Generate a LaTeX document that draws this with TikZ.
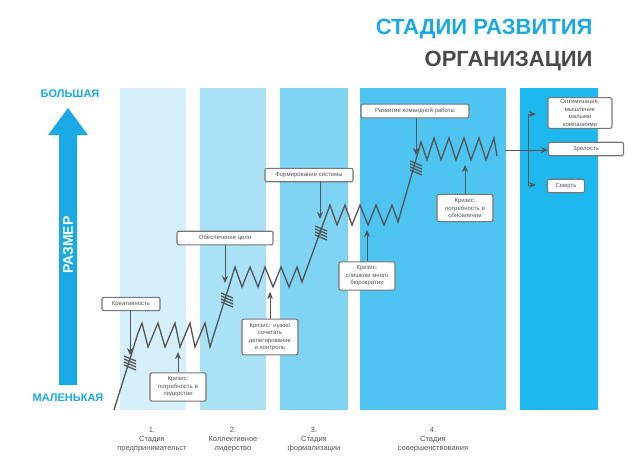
\documentclass[tikz,border=0pt]{standalone}
\usepackage{fontspec}
\setmainfont{Liberation Sans}
\usetikzlibrary{arrows.meta}
\definecolor{bA}{HTML}{D6F0FB}
\definecolor{bB}{HTML}{A9E2F7}
\definecolor{bC}{HTML}{7FD3F3}
\definecolor{bD}{HTML}{4DC5F0}
\definecolor{bE}{HTML}{1DB8ED}
\definecolor{cy}{HTML}{1BA9E6}
\definecolor{dg}{HTML}{4A4A4A}
\definecolor{ln}{HTML}{555555}
\tikzset{
 lbl/.style={draw=ln!80,fill=white,rounded corners=2pt,line width=1.1pt,font=\fontsize{6}{7.5}\selectfont,text=ln,align=center,inner xsep=3pt,inner ysep=4pt},
 arr/.style={draw=ln,line width=0.9pt,-{Stealth[length=7pt,width=6pt]}},
 crv/.style={draw=ln,line width=1.3pt,line join=miter},
 spr/.style={draw=ln,line width=1.3pt},
 stg/.style={font=\fontsize{7.5}{9}\selectfont,text=ln,align=center,anchor=north}
}
\newcommand{\sprng}[2]{\draw[spr] (#1-6,#2-4)--(#1+6,#2+1) (#1-6,#2-1)--(#1+6,#2+4) (#1-6,#2+2)--(#1+6,#2+7) (#1-6,#2-7)--(#1+6,#2-2);}
\begin{document}
\begin{tikzpicture}[x=1pt,y=-1pt]
\useasboundingbox (0,0) rectangle (640,472);
\fill[white] (0,0) rectangle (640,472);
\fill[bA] (120,88) rectangle (186,410);
\fill[bB] (200,88) rectangle (266,410);
\fill[bC] (280,88) rectangle (348,410);
\fill[bD] (360,88) rectangle (506,410);
\fill[bE] (520,88) rectangle (598,410);
\node[anchor=east,text=cy,font=\fontsize{22}{24}\bfseries] (t1) at (596,29) {СТАДИИ РАЗВИТИЯ};
\node[anchor=east,text=dg,font=\fontsize{22}{24}\bfseries] (t2) at (596,61) {ОРГАНИЗАЦИИ};
\fill[cy] (59,385) -- (59,135) -- (48,135) -- (68,108) -- (88,135) -- (77,135) -- (77,385) -- cycle;
\node[rotate=90,text=white,font=\fontsize{14}{16}\bfseries] (sz) at (68,245) {РАЗМЕР};
\node[text=cy,font=\fontsize{11}{12}\bfseries] (big) at (70,94) {БОЛЬШАЯ};
\node[text=cy,font=\fontsize{11}{12}\bfseries] (sm) at (68,398) {МАЛЕНЬКАЯ};
\draw[crv] (114,410) -- (138,333) -- (142,323) -- (148,347) -- (158,323) -- (165,347) -- (175,323) -- (180,347) -- (190,323) -- (195,347) -- (205,323) -- (210,347)
 -- (235,267) -- (242,287) -- (250,267) -- (258,287) -- (265,267) -- (273,287) -- (281,267) -- (289,287) -- (297,267) -- (302,282)
 -- (330,205) -- (337,225) -- (345,205) -- (352,225) -- (360,205) -- (368,225) -- (376,205) -- (384,225) -- (392,205) -- (398,222)
 -- (421,142) -- (427,160) -- (434,138) -- (441,160) -- (449,138) -- (456,160) -- (464,138) -- (471,160) -- (479,138) -- (486,160) -- (494,138) -- (497,156);
\sprng{130}{363}
\sprng{227}{300}
\sprng{321}{233}
\sprng{416}{168}
\node[lbl,minimum width=58pt] (kr) at (131,304) {Креативность};
\node[lbl,text width=50pt] (k1) at (178,387) {Кризис:\\потребность в\\лидерстве};
\node[lbl,minimum width=96pt] (ob) at (225,238) {Обеспечение цели};
\node[lbl,text width=50pt] (k2) at (270,337) {Кризис: нужно\\сочетать\\делегирование\\и контроль};
\node[lbl,minimum width=88pt] (fs) at (309,175) {Формирование системы};
\node[lbl,text width=50pt] (k3) at (367,276) {Кризис:\\слишком много\\бюрократии};
\node[lbl,minimum width=108pt] (rk) at (415,111) {Развитие командной работы};
\node[lbl,text width=58pt,inner ysep=2pt] (op) at (580,113) {Оптимизация,\\мышление\\малыми\\компаниями};
\node[lbl,text width=50pt] (k4) at (465,208) {Кризис:\\потребность в\\обновлении};
\node[lbl,minimum width=75pt] (zr) at (586,149) {Зрелость};
\node[lbl,minimum width=37pt] (sm2) at (566,186) {Смерть};
\coordinate (e1) at (130,355);
\coordinate (e2) at (178,352);
\coordinate (e3) at (225,283);
\coordinate (e4) at (270,292);
\coordinate (e5) at (320,219);
\coordinate (e6) at (367,230);
\coordinate (e7) at (416,155);
\coordinate (e8) at (465,165);
\draw[arr] (kr.south -| e1) -- (e1);
\draw[arr] (k1.north -| e2) -- (e2);
\draw[arr] (ob.south -| e3) -- (e3);
\draw[arr] (k2.north -| e4) -- (e4);
\draw[arr] (fs.south -| e5) -- (e5);
\draw[arr] (k3.north -| e6) -- (e6);
\draw[arr] (rk.south -| e7) -- (e7);
\draw[arr] (k4.north -| e8) -- (e8);
\coordinate (ex) at (505,150);
\coordinate (ta) at (528,114);
\coordinate (tb) at (528,185);
\draw[arr] (ex) -- (zr.west |- ex);
\draw[ln,line width=0.9pt] (ta) -- (tb);
\draw[arr] (ta) -- ++(8,0);
\draw[arr] (tb) -- ++(8,0);
\node[stg] (s1) at (152,424) {1.\\Стадия\\предпринимательст};
\node[stg] (s2) at (233,424) {2.\\Коллективное\\лидерство};
\node[stg] (s3) at (314,424) {3.\\Стадия\\формализации};
\node[stg] (s4) at (433,424) {4.\\Стадия\\совершенствования};
\end{tikzpicture}
\end{document}
